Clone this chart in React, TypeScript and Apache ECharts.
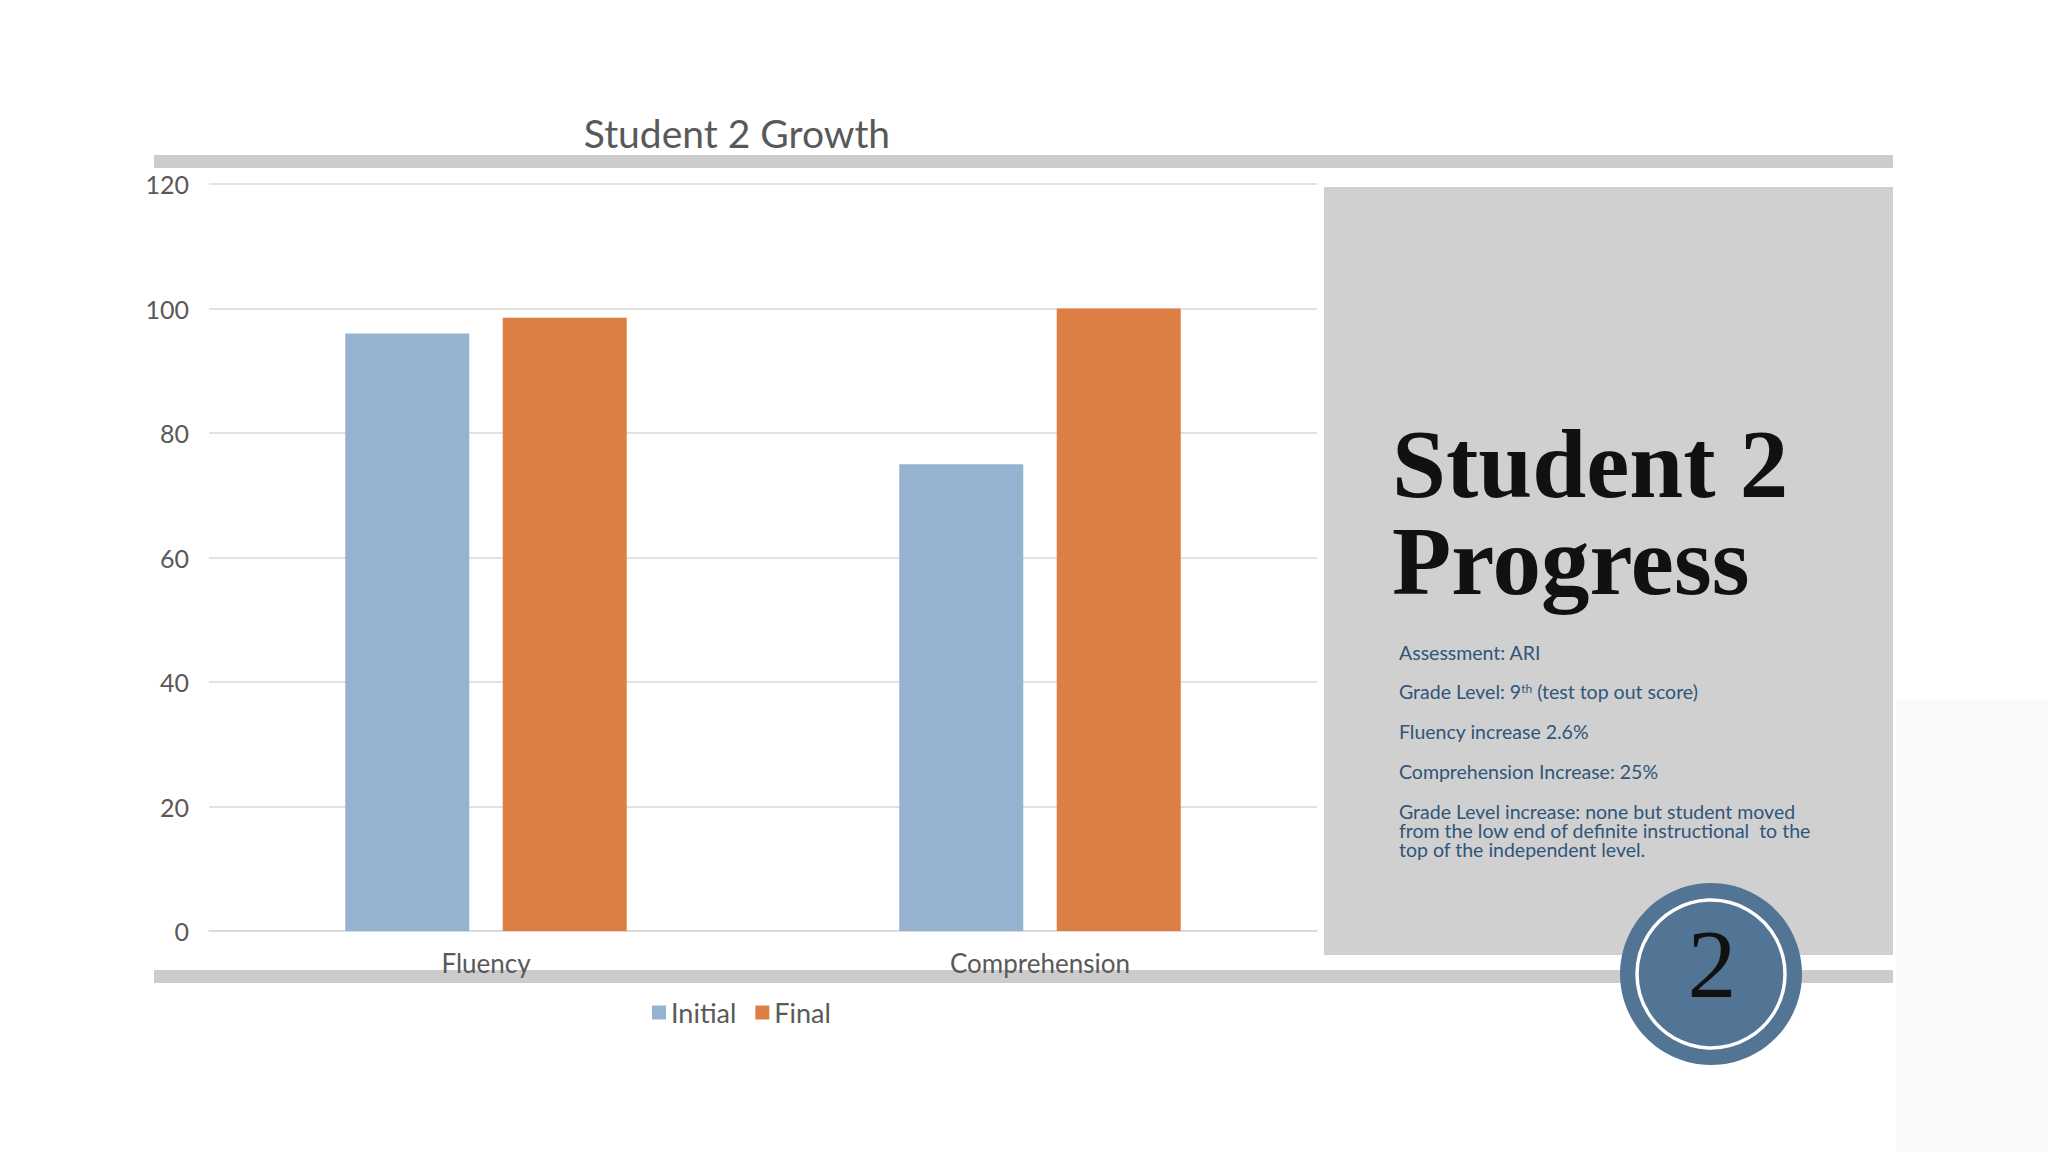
import React, { useEffect, useRef } from "react";
import * as echarts from "echarts";

const categories = ["Fluency", "Comprehension"];
const initialValues = [96, 75];
const finalValues = [98.5, 100];
const seriesNames = ["Initial", "Final"];
const yTicks = { min: 0, max: 120, interval: 20 };
const chartTitle = "Student 2 Growth";
const panelTitleLines = ["Student 2", "Progress"];
const panelNotes = [
  "Assessment: ARI",
  "Grade Level: 9{sup|th} (test top out score)",
  "Fluency increase 2.6%",
  "Comprehension Increase: 25%",
  "Grade Level increase: none but student moved\nfrom the low end of definite instructional  to the\ntop of the independent level.",
];
const slideNumber = "2";

export default function App() {
  const ref = useRef<HTMLDivElement>(null);
  useEffect(() => {
    if (!ref.current) return;
    const chart = echarts.init(ref.current, null, { renderer: "svg" });
    const noteY = [653, 692, 732, 772, 812];
    const option: any = {
      animation: false,
      backgroundColor: "#ffffff",
      color: ["#95B3D0", "#DD7F45"],
      grid: { left: 209, right: 731, top: 184, bottom: 221, containLabel: false },
      legend: {
        data: seriesNames,
        left: 647,
        top: 994,
        itemWidth: 14,
        itemHeight: 14,
        itemGap: 19,
        icon: "rect",
        textStyle: { fontFamily: "Lato", fontSize: 27, color: "#595959" },
      },
      xAxis: {
        type: "category",
        data: categories,
        axisLine: { lineStyle: { color: "#D9D9D9", width: 1.5 } },
        axisTick: { show: false },
        axisLabel: { fontFamily: "Lato", fontSize: 26, color: "#595959", margin: 19 },
      },
      yAxis: {
        type: "value",
        min: yTicks.min,
        max: yTicks.max,
        interval: yTicks.interval,
        axisLine: { show: false },
        axisTick: { show: false },
        axisLabel: { fontFamily: "Lato", fontSize: 25, color: "#595959", margin: 20 },
        splitLine: { lineStyle: { color: "#D9D9D9", width: 1.5 } },
      },
      series: [
        { name: seriesNames[0], type: "bar", data: initialValues, barWidth: 124, barGap: "27%" },
        { name: seriesNames[1], type: "bar", data: finalValues, barWidth: 124, barGap: "27%" },
      ],
      graphic: [
        { type: "rect", z: -10, shape: { x: 1896, y: 700, width: 152, height: 452 }, style: { fill: "#FAFAFA" } },
        { type: "rect", z: -5, shape: { x: 154, y: 155, width: 1739, height: 13 }, style: { fill: "#CCCCCC" } },
        { type: "rect", z: -5, shape: { x: 154, y: 970, width: 1739, height: 13 }, style: { fill: "#CCCCCC" } },
        { type: "rect", z: -5, shape: { x: 1324, y: 187, width: 569, height: 768 }, style: { fill: "#D0D0D0" } },
        {
          type: "text",
          x: 737,
          y: 133,
          style: {
            text: chartTitle,
            fontFamily: "Lato",
            fontSize: 39,
            fill: "#595959",
            textAlign: "center",
            textVerticalAlign: "middle",
          },
        },
        {
          type: "text",
          x: 1392,
          y: 416,
          style: {
            text: panelTitleLines.join("\n"),
            fontFamily: "Liberation Serif",
            fontWeight: "bold",
            fontSize: 97,
            lineHeight: 97,
            fill: "#111111",
            textAlign: "left",
            textVerticalAlign: "top",
          },
        },
        ...panelNotes.map((t, i) => ({
          type: "text",
          x: 1399,
          y: noteY[i] - 10,
          style: {
            text: t,
            fontFamily: "Lato",
            fontSize: 19.5,
            lineHeight: 19,
            fill: "#2F557A",
            textAlign: "left",
            textVerticalAlign: "top",
            rich: {
              sup: { fontFamily: "Lato", fontSize: 12, fill: "#2F557A", verticalAlign: "top", padding: [0, 0, 8, 0] },
            },
          },
        })),
        { type: "circle", shape: { cx: 1711, cy: 974, r: 91 }, style: { fill: "#527595" } },
        { type: "circle", shape: { cx: 1711, cy: 974, r: 74 }, style: { fill: "none", stroke: "#FFFFFF", lineWidth: 3.5 } },
        {
          type: "text",
          x: 1712,
          y: 964,
          style: {
            text: slideNumber,
            fontFamily: "Liberation Serif",
            fontSize: 98,
            fill: "#111111",
            textAlign: "center",
            textVerticalAlign: "middle",
          },
        },
      ],
    };
    chart.setOption(option);
    return () => chart.dispose();
  }, []);
  return (
    <div
      ref={ref}
      style={{ position: "fixed", left: 0, top: 0, width: 2048, height: 1152 }}
    />
  );
}
